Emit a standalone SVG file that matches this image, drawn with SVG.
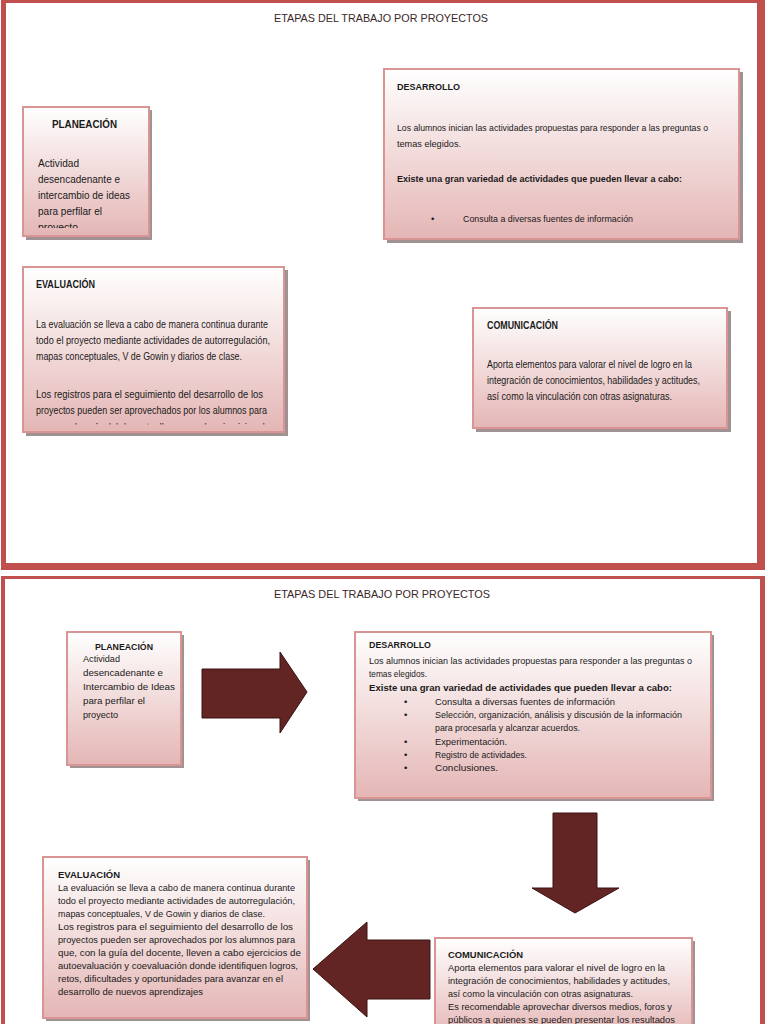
<svg xmlns="http://www.w3.org/2000/svg" width="768" height="1024" viewBox="0 0 768 1024">
<defs>
<linearGradient id="pk" x1="0" y1="0" x2="0" y2="1">
<stop offset="0" stop-color="#FFFFFF"/>
<stop offset="1" stop-color="#E4B6B5"/>
</linearGradient>
<clipPath id="cpA"><rect x="23" y="107" width="126" height="121"/></clipPath>
<clipPath id="cpB"><rect x="23" y="267" width="262" height="157.5"/></clipPath>
</defs>
<style>
text{font-family:"Liberation Sans",Arial,sans-serif;fill:#1a1a1a;}
.tt{font-size:11.5px;fill:#3a2828;}
.h{font-weight:bold;font-size:10.5px;}
.b{font-size:10.5px;}
.s{font-size:9.5px;}
.hs{font-weight:bold;font-size:9.5px;}
.box{fill:url(#pk);stroke:#D99594;stroke-width:2;}
.sh{fill:#A09292;}
.frame{fill:#C0504D;}
.arr{fill:#632523;stroke:#3A1212;stroke-width:1;}
</style>
<rect width="768" height="1024" fill="#FFFFFF"/>

<g id="frame-top">
<rect class="frame" x="1" y="0" width="764" height="570"/>
<rect x="6" y="3" width="751" height="560" fill="#FFFFFF"/>
<text class="tt" x="381" y="22" text-anchor="middle" textLength="214" lengthAdjust="spacingAndGlyphs">ETAPAS DEL TRABAJO POR PROYECTOS</text>
</g>

<g id="planeacion-top">
<rect class="sh" x="26" y="110" width="126" height="130"/>
<rect class="box" x="23" y="107" width="126" height="129"/>
<text class="h" x="52" y="128" textLength="65" lengthAdjust="spacingAndGlyphs">PLANEACIÓN</text>
<g clip-path="url(#cpA)">
<text class="b" x="38" y="167" textLength="41" lengthAdjust="spacingAndGlyphs">Actividad</text>
<text class="b" x="38" y="183" textLength="82" lengthAdjust="spacingAndGlyphs">desencadenante e</text>
<text class="b" x="38" y="199" textLength="92" lengthAdjust="spacingAndGlyphs">intercambio de ideas</text>
<text class="b" x="38" y="215" textLength="64" lengthAdjust="spacingAndGlyphs">para perfilar el</text>
<text class="b" x="38" y="231" textLength="40" lengthAdjust="spacingAndGlyphs">proyecto</text>
</g>
</g>

<g id="desarrollo-top">
<rect class="sh" x="387" y="72" width="356" height="171"/>
<rect class="box" x="384" y="69" width="355" height="170"/>
<text class="hs" x="397" y="90" textLength="63" lengthAdjust="spacingAndGlyphs">DESARROLLO</text>
<text class="s" x="397" y="131" textLength="311" lengthAdjust="spacingAndGlyphs">Los alumnos inician las actividades propuestas para responder a las preguntas o</text>
<text class="s" x="397" y="147" textLength="64" lengthAdjust="spacingAndGlyphs">temas elegidos.</text>
<text class="hs" x="397" y="182" textLength="285" lengthAdjust="spacingAndGlyphs">Existe una gran variedad de actividades que pueden llevar a cabo:</text>
<text class="s" x="431" y="222">•</text>
<text class="s" x="463" y="222" textLength="170" lengthAdjust="spacingAndGlyphs">Consulta a diversas fuentes de información</text>
</g>

<g id="evaluacion-top">
<rect class="sh" x="26" y="270" width="262" height="166"/>
<rect class="box" x="23" y="267" width="261" height="165"/>
<text class="h" x="36" y="288" textLength="59" lengthAdjust="spacingAndGlyphs">EVALUACIÓN</text>
<g clip-path="url(#cpB)">
<text class="b" x="36" y="328" textLength="232" lengthAdjust="spacingAndGlyphs">La evaluación se lleva a cabo de manera continua durante</text>
<text class="b" x="36" y="344" textLength="234" lengthAdjust="spacingAndGlyphs">todo el proyecto mediante actividades de autorregulación,</text>
<text class="b" x="36" y="360" textLength="206" lengthAdjust="spacingAndGlyphs">mapas conceptuales, V de Gowin y diarios de clase.</text>
<text class="b" x="36" y="398" textLength="227" lengthAdjust="spacingAndGlyphs">Los registros para el seguimiento del desarrollo de los</text>
<text class="b" x="36" y="414" textLength="231" lengthAdjust="spacingAndGlyphs">proyectos pueden ser aprovechados por los alumnos para</text>
<text class="b" x="36" y="431" textLength="234" lengthAdjust="spacingAndGlyphs">que, con la guía del docente, lleven a cabo ejercicios de</text>
</g>
</g>

<g id="comunicacion-top">
<rect class="sh" x="476" y="311" width="255" height="121"/>
<rect class="box" x="473" y="308" width="254" height="120"/>
<text class="h" x="487" y="329" textLength="71" lengthAdjust="spacingAndGlyphs">COMUNICACIÓN</text>
<text class="b" x="487" y="368" textLength="205" lengthAdjust="spacingAndGlyphs">Aporta elementos para valorar el nivel de logro en la</text>
<text class="b" x="487" y="384" textLength="213" lengthAdjust="spacingAndGlyphs">integración de conocimientos, habilidades y actitudes,</text>
<text class="b" x="487" y="400" textLength="185" lengthAdjust="spacingAndGlyphs">así como la vinculación con otras asignaturas.</text>
</g>

<g id="frame-bottom">
<rect class="frame" x="1" y="576" width="764" height="460"/>
<rect x="5" y="579" width="755" height="460" fill="#FFFFFF"/>
<text class="tt" x="382" y="598" text-anchor="middle" textLength="216" lengthAdjust="spacingAndGlyphs">ETAPAS DEL TRABAJO POR PROYECTOS</text>
</g>

<g id="planeacion-bottom">
<rect class="sh" x="70" y="635" width="114" height="133"/>
<rect class="box" x="67" y="632" width="114" height="133"/>
<text class="hs" x="95" y="650" textLength="58" lengthAdjust="spacingAndGlyphs">PLANEACIÓN</text>
<text class="s" x="83" y="662" textLength="37" lengthAdjust="spacingAndGlyphs">Actividad</text>
<text class="s" x="83" y="676" textLength="80" lengthAdjust="spacingAndGlyphs">desencadenante e</text>
<text class="s" x="83" y="690" textLength="92" lengthAdjust="spacingAndGlyphs">Intercambio de Ideas</text>
<text class="s" x="83" y="704" textLength="62" lengthAdjust="spacingAndGlyphs">para perfilar el</text>
<text class="s" x="83" y="718" textLength="35" lengthAdjust="spacingAndGlyphs">proyecto</text>
</g>

<g id="desarrollo-bottom">
<rect class="sh" x="358" y="635" width="356" height="166"/>
<rect class="box" x="355" y="632" width="356" height="166"/>
<text class="hs" x="369" y="648" textLength="62" lengthAdjust="spacingAndGlyphs">DESARROLLO</text>
<text class="s" x="369" y="664" textLength="323" lengthAdjust="spacingAndGlyphs">Los alumnos inician las actividades propuestas para responder a las preguntas o</text>
<text class="s" x="369" y="677" textLength="58" lengthAdjust="spacingAndGlyphs">temas elegidos.</text>
<text class="hs" x="369" y="691" textLength="303" lengthAdjust="spacingAndGlyphs">Existe una gran variedad de actividades que pueden llevar a cabo:</text>
<text class="s" x="404" y="705">•</text>
<text class="s" x="435" y="705" textLength="180" lengthAdjust="spacingAndGlyphs">Consulta a diversas fuentes de información</text>
<text class="s" x="404" y="718">•</text>
<text class="s" x="435" y="718" textLength="247" lengthAdjust="spacingAndGlyphs">Selección, organización, análisis y discusión de la información</text>
<text class="s" x="435" y="731" textLength="145" lengthAdjust="spacingAndGlyphs">para procesarla y alcanzar acuerdos.</text>
<text class="s" x="404" y="745">•</text>
<text class="s" x="435" y="745" textLength="72" lengthAdjust="spacingAndGlyphs">Experimentación.</text>
<text class="s" x="404" y="758">•</text>
<text class="s" x="435" y="758" textLength="92" lengthAdjust="spacingAndGlyphs">Registro de actividades.</text>
<text class="s" x="404" y="771">•</text>
<text class="s" x="435" y="771" textLength="63" lengthAdjust="spacingAndGlyphs">Conclusiones.</text>
</g>

<g id="evaluacion-bottom">
<rect class="sh" x="46" y="860" width="264" height="161"/>
<rect class="box" x="43" y="857" width="264" height="161"/>
<text class="hs" x="58" y="878" textLength="62" lengthAdjust="spacingAndGlyphs">EVALUACIÓN</text>
<text class="s" x="58" y="891" textLength="237" lengthAdjust="spacingAndGlyphs">La evaluación se lleva a cabo de manera continua durante</text>
<text class="s" x="58" y="904" textLength="237" lengthAdjust="spacingAndGlyphs">todo el proyecto mediante actividades de autorregulación,</text>
<text class="s" x="58" y="917" textLength="207" lengthAdjust="spacingAndGlyphs">mapas conceptuales, V de Gowin y diarios de clase.</text>
<text class="s" x="58" y="930" textLength="235" lengthAdjust="spacingAndGlyphs">Los registros para el seguimiento del desarrollo de los</text>
<text class="s" x="58" y="943" textLength="237" lengthAdjust="spacingAndGlyphs">proyectos pueden ser aprovechados por los alumnos para</text>
<text class="s" x="58" y="956" textLength="243" lengthAdjust="spacingAndGlyphs">que, con la guía del docente, lleven a cabo ejercicios de</text>
<text class="s" x="58" y="969" textLength="240" lengthAdjust="spacingAndGlyphs">autoevaluación y coevaluación donde identifiquen logros,</text>
<text class="s" x="58" y="982" textLength="225" lengthAdjust="spacingAndGlyphs">retos, dificultades y oportunidades para avanzar en el</text>
<text class="s" x="58" y="995" textLength="145" lengthAdjust="spacingAndGlyphs">desarrollo de nuevos aprendizajes</text>
</g>

<g id="comunicacion-bottom">
<rect class="sh" x="438" y="941" width="257" height="100"/>
<rect class="box" x="435" y="938" width="257" height="100"/>
<text class="hs" x="448" y="958" textLength="75" lengthAdjust="spacingAndGlyphs">COMUNICACIÓN</text>
<text class="s" x="448" y="971" textLength="217" lengthAdjust="spacingAndGlyphs">Aporta elementos para valorar el nivel de logro en la</text>
<text class="s" x="448" y="984" textLength="222" lengthAdjust="spacingAndGlyphs">integración de conocimientos, habilidades y actitudes,</text>
<text class="s" x="448" y="997" textLength="185" lengthAdjust="spacingAndGlyphs">así como la vinculación con otras asignaturas.</text>
<text class="s" x="448" y="1010" textLength="224" lengthAdjust="spacingAndGlyphs">Es recomendable aprovechar diversos medios, foros y</text>
<text class="s" x="448" y="1023" textLength="227" lengthAdjust="spacingAndGlyphs">públicos a quienes se pueden presentar los resultados</text>
</g>

<g id="connectors">
<polygon class="arr" points="202,669 280,669 280,652 307,692 280,733 280,718 202,718"/>
<polygon class="arr" points="553,813 597,813 597,888 619,888 575,913 532,888 553,888"/>
<polygon class="arr" points="430,940 367,940 367,922 313,969 367,1017 367,999 430,999"/>
</g>
</svg>
